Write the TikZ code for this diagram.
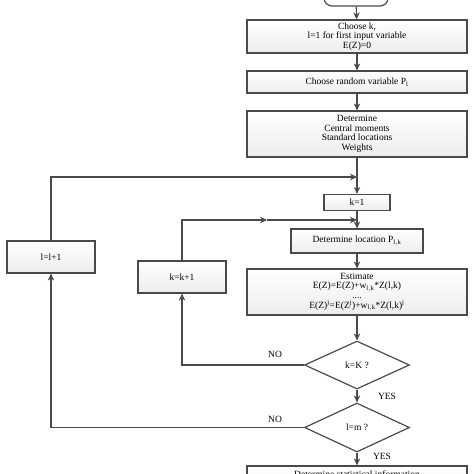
\documentclass[tikz,border=0pt]{standalone}
\usepackage{fontspec}
\setmainfont{Liberation Serif}
\usetikzlibrary{shapes.geometric,arrows.meta}
\definecolor{ln}{HTML}{4A4A4A}
\tikzset{
  txt/.style={font=\fontsize{9.5}{9.6}\selectfont},
  box/.style={draw=ln, line width=1.2pt, top color=white, bottom color=black!7, rectangle, inner sep=1pt, align=center, txt},
  dia/.style={draw=ln, line width=1.2pt, fill=white, diamond, inner sep=0pt, txt},
  term/.style={draw=ln, line width=1.2pt, fill=white, rounded corners=8pt, rectangle},
  lab/.style={txt},
  conn/.style={draw=ln, line width=1.2pt, -{Stealth[length=7pt,width=6.5pt]}},
}
\begin{document}
\begin{tikzpicture}[x=1pt,y=-1pt]
\useasboundingbox (0,0) rectangle (474,474);
\fill[white] (0,0) rectangle (474,474);
\node[term, minimum width=64pt, minimum height=22pt] (start) at (356,-5) {};
\node[box, minimum width=220pt, minimum height=33pt] (b1) at (357,36.5) {Choose k,\\l=1 for first input variable\\E(Z)=0};
\node[box, minimum width=220pt, minimum height=22pt] (b2) at (357,82) {Choose random variable P$_{\mathrm{l}}$};
\node[box, minimum width=220pt, minimum height=46pt] (b3) at (357,134) {Determine\\Central moments\\Standard locations\\Weights};
\node[box, minimum width=66pt, minimum height=16pt] (k1) at (357,202.5) {k=1};
\node[box, minimum width=132pt, minimum height=24pt] (loc) at (357,241) {Determine location P$_{\mathrm{l,k}}$};
\node[box, minimum width=220pt, minimum height=46pt] (est) at (357,292) {Estimate\\E(Z)=E(Z)+w$_{\mathrm{l,k}}$*Z(l,k)\\....\\E(Z)$^{\mathrm{j}}$=E(Z$^{\mathrm{j}}$)+w$_{\mathrm{l,k}}$*Z(l,k)$^{\mathrm{j}}$};
\node[dia, minimum width=105pt, minimum height=48pt] (d1) at (357,365) {k=K ?};
\node[dia, minimum width=105pt, minimum height=49pt] (d2) at (357,427.5) {l=m ?};
\node[box, minimum width=220pt, minimum height=30pt, text depth=14pt] (fin) at (357,481) {Determine statistical information};
\node[box, minimum width=88pt, minimum height=32pt] (ll) at (51,257) {l=l+1};
\node[box, minimum width=88pt, minimum height=32pt] (kk) at (182,277) {k=k+1};
\coordinate (j1) at (357,177);
\coordinate (j2) at (357,220);
\coordinate (m2) at (267,220);
\node[lab] (no1) at (275,354) {NO};
\node[lab] (yes1) at (387,396) {YES};
\node[lab] (no2) at (275,419) {NO};
\node[lab] (yes2) at (382,456) {YES};
\draw[conn] (start) -- (b1);
\draw[conn] (b1) -- (b2);
\draw[conn] (b2) -- (b3);
\draw[conn] (b3) -- (k1);
\draw[conn] (k1) -- (loc);
\draw[conn] (loc) -- (est);
\draw[conn] (est) -- (d1);
\draw[conn] (d1) -- (d2);
\draw[conn] (d2) -- (fin);
\draw[conn] (d1.west) -| (kk.south);
\draw[conn] (d2.west) -| (ll.south);
\draw[conn] (ll.north) |- (j1);
\draw[conn] (kk.north) |- (m2);
\draw[conn] (m2) -- (j2);
\end{tikzpicture}
\end{document}
